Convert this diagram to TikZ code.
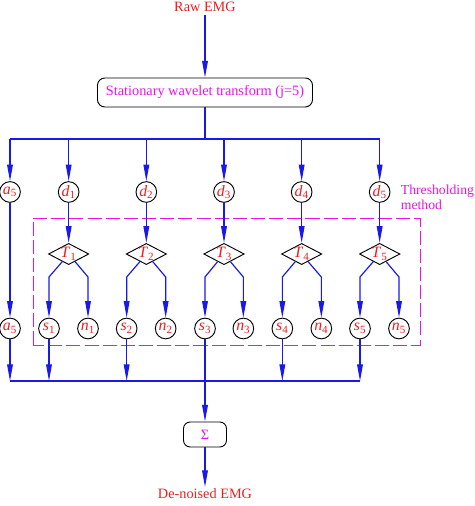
\documentclass[tikz,border=0pt]{standalone}
\usepackage{fontspec}
\setmainfont{Liberation Serif}
\usepackage{tikz}
\definecolor{emgred}{RGB}{235,30,35}
\definecolor{labelmagenta}{RGB}{230,20,230}
\definecolor{flowblue}{RGB}{25,25,235}
\usetikzlibrary{arrows.meta}
\usetikzlibrary{shapes}
\usetikzlibrary{positioning}

\begin{document}
\begin{tikzpicture}
        \tikzset{every node/.style={font=\fontsize{12.2}{13}\selectfont},
                >={Triangle[length=5mm,width=1.7mm]},
                every edge/.style={draw=flowblue,line width=1pt},
                wire/.style={draw=flowblue,line width=1pt},
                sig/.style={circle, draw, line width=0.8pt, minimum size=0.62cm, inner sep=0pt, text=emgred, font=\fontsize{13.5}{14}\selectfont},
                thr/.style={diamond, draw, line width=0.8pt, aspect=1.9, minimum width=1.16cm, minimum height=0.6cm, inner sep=0pt, text=emgred, font=\fontsize{13.5}{14}\selectfont},
                blk/.style={draw, rounded corners=0.22cm, line width=0.8pt, text=labelmagenta}}

        \useasboundingbox (0, 0) rectangle (14.22, 15.18);

        % input and transform
        \node[text=emgred, inner sep=3pt, anchor=base] (raw) at (6.15, 14.84) {Raw EMG};
        \node[blk, minimum width=6.45cm, minimum height=0.87cm] (swt) at (6.15, 12.405) {Stationary wavelet transform (j=5)};

        \coordinate (split) at (6.15, 11.01);
        \coordinate (t0) at (0.30, 11.01);
        \coordinate (t1) at (2.06, 11.01);
        \coordinate (t2) at (4.39, 11.01);
        \coordinate (t3) at (6.72, 11.01);
        \coordinate (t4) at (9.05, 11.01);
        \coordinate (t5) at (11.39, 11.01);

        % coefficients
        \node[sig] (a5) at (0.30, 9.42) {\textit{a}\textsubscript{5}};
        \node[sig] (d1) at (2.06, 9.42) {\textit{d}\textsubscript{1}};
        \node[sig] (d2) at (4.39, 9.42) {\textit{d}\textsubscript{2}};
        \node[sig] (d3) at (6.72, 9.42) {\textit{d}\textsubscript{3}};
        \node[sig] (d4) at (9.05, 9.42) {\textit{d}\textsubscript{4}};
        \node[sig] (d5) at (11.39, 9.42) {\textit{d}\textsubscript{5}};

        % thresholding
        \draw[labelmagenta, line width=0.8pt, dash pattern=on 12pt off 3.5pt] (0.99, 4.83) rectangle (12.6, 8.64);
        \node[text=labelmagenta, anchor=north west, inner sep=0pt, align=left, font=\fontsize{11.7}{13}\selectfont] (thlabel) at (12.02, 9.65) {Thresholding\\method};

        \node[thr] (T1) at (2.06, 7.56) {\textit{T}\textsubscript{1}};
        \node[thr] (T2) at (4.39, 7.56) {\textit{T}\textsubscript{2}};
        \node[thr] (T3) at (6.72, 7.56) {\textit{T}\textsubscript{3}};
        \node[thr] (T4) at (9.05, 7.56) {\textit{T}\textsubscript{4}};
        \node[thr] (T5) at (11.39, 7.56) {\textit{T}\textsubscript{5}};

        \coordinate (k1) at (1.47, 6.87);
        \coordinate (k2) at (3.80, 6.87);
        \coordinate (k3) at (6.15, 6.87);
        \coordinate (k4) at (8.47, 6.87);
        \coordinate (k5) at (10.80, 6.87);
        \coordinate (j1) at (2.64, 6.87);
        \coordinate (j2) at (4.97, 6.87);
        \coordinate (j3) at (7.30, 6.87);
        \coordinate (j4) at (9.64, 6.87);
        \coordinate (j5) at (11.97, 6.87);

        \node[sig] (a5b) at (0.30, 5.325) {\textit{a}\textsubscript{5}};
        \node[sig] (s1) at (1.47, 5.325) {\textit{s}\textsubscript{1}};
        \node[sig] (n1) at (2.64, 5.325) {\textit{n}\textsubscript{1}};
        \node[sig] (s2) at (3.80, 5.325) {\textit{s}\textsubscript{2}};
        \node[sig] (n2) at (4.97, 5.325) {\textit{n}\textsubscript{2}};
        \node[sig] (s3) at (6.15, 5.325) {\textit{s}\textsubscript{3}};
        \node[sig] (n3) at (7.30, 5.325) {\textit{n}\textsubscript{3}};
        \node[sig] (s4) at (8.47, 5.325) {\textit{s}\textsubscript{4}};
        \node[sig] (n4) at (9.64, 5.325) {\textit{n}\textsubscript{4}};
        \node[sig] (s5) at (10.80, 5.325) {\textit{s}\textsubscript{5}};
        \node[sig] (n5) at (11.97, 5.325) {\textit{n}\textsubscript{5}};

        % reconstruction
        \coordinate (m0) at (0.30, 3.75);
        \coordinate (m1) at (1.47, 3.75);
        \coordinate (m2) at (3.80, 3.75);
        \coordinate (m4) at (8.47, 3.75);
        \coordinate (m5) at (10.80, 3.75);

        \node[blk, rounded corners=0.2cm, minimum width=1.29cm, minimum height=0.75cm] (sum) at (6.15, 2.145) {Σ};
        \node[text=emgred, inner sep=1pt, anchor=north] (out) at (6.15, 0.57) {De-noised EMG};

        \path [->] (raw) edge node {} (swt);
        \path (swt) edge node {} (split);
        \path (t0) edge node {} (t5);
        \path [->] (t0) edge node {} (a5);
        \path [->] (t1) edge node {} (d1);
        \path [->] (t2) edge node {} (d2);
        \path [->] (t3) edge node {} (d3);
        \path [->] (t4) edge node {} (d4);
        \path [->] (t5) edge node {} (d5);

        \path [->] (a5) edge node {} (a5b);
        \path [->] (d1) edge node {} (T1);
        \path [->] (d2) edge node {} (T2);
        \path [->] (d3) edge node {} (T3);
        \path [->] (d4) edge node {} (T4);
        \path [->] (d5) edge node {} (T5);

        \draw[wire, ->] (T1.-130) -- (k1) -- (s1);
        \draw[wire, ->] (T2.-130) -- (k2) -- (s2);
        \draw[wire, ->] (T3.-130) -- (k3) -- (s3);
        \draw[wire, ->] (T4.-130) -- (k4) -- (s4);
        \draw[wire, ->] (T5.-130) -- (k5) -- (s5);
        \draw[wire, ->] (T1.-50) -- (j1) -- (n1);
        \draw[wire, ->] (T2.-50) -- (j2) -- (n2);
        \draw[wire, ->] (T3.-50) -- (j3) -- (n3);
        \draw[wire, ->] (T4.-50) -- (j4) -- (n4);
        \draw[wire, ->] (T5.-50) -- (j5) -- (n5);

        \path (m0) edge node {} (m5);
        \path [->] (a5b) edge node {} (m0);
        \path [->] (s1) edge node {} (m1);
        \path [->] (s2) edge node {} (m2);
        \path [->] (s3) edge node {} (sum);
        \path [->] (s4) edge node {} (m4);
        \path [->] (s5) edge node {} (m5);
        \path [->] (sum) edge node {} (out);

    \end{tikzpicture}
\end{document}
